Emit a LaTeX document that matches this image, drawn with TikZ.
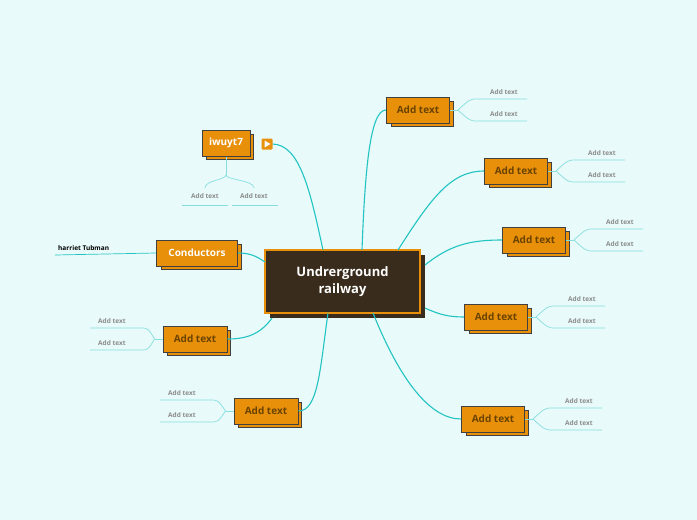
\documentclass[tikz,border=0pt]{standalone}
\usepackage{fontspec}
\setmainfont{Open Sans}
\begin{document}
\begin{tikzpicture}[x=1pt,y=-1pt,
  sub/.style={font=\bfseries\fontsize{6.5}{8}\selectfont,text=gray!90,inner sep=1pt},
  lt/.style={draw=teal2,line width=0.7pt},
  cn/.style={draw=teal1,line width=1.1pt}]
\definecolor{bgc}{HTML}{E8FAFA}
\definecolor{orgc}{HTML}{E8900A}
\definecolor{txtc}{HTML}{6A4300}
\definecolor{teal1}{HTML}{22C4C2}
\definecolor{teal2}{HTML}{86DEDE}
\definecolor{darkc}{HTML}{3A2C1C}
\useasboundingbox[fill=bgc] (0,0) rectangle (697,520);
% centre
\fill[darkc] (270,255) rectangle (425,318);
\node[draw=orgc,line width=2pt,fill=darkc,minimum width=155pt,minimum height=63pt,text=white,font=\bfseries\fontsize{13}{17}\selectfont,align=center] (c) at (342.5,281.5) {Undrerground\\railway};
\foreach \n/\x/\y/\t/\w/\col in {i/226/143/iwuyt7/48/white,k/197/253/Conductors/81/white,l1/195/339/Add text/64/txtc,l2/266/411/Add text/64/txtc,r1/418/110/Add text/63/txtc,r2/516/171/Add text/63/txtc,r3/534/240/Add text/63/txtc,r4/496/317/Add text/63/txtc,r5/493/419/Add text/63/txtc}{
  \fill[black!75] (\x-\w/2+4,\y-13+4) rectangle (\x+\w/2+4,\y+13+4);
  \fill[orgc] (\x-\w/2+4+1,\y-13+4+1) rectangle (\x+\w/2+4-1,\y+13+4-1);
  \node[draw=black!75,line width=1pt,fill=orgc,minimum width=\w pt,minimum height=26pt,inner sep=2pt,font=\bfseries\fontsize{10}{12}\selectfont,text=\col] (\n) at (\x,\y) {\t};
}
\node[fill=orgc,rounded corners=1pt,minimum size=11pt,inner sep=0pt] (ic) at (267,144) {};
\fill[white] (264.5,140.5) -- (270.5,144) -- (264.5,147.5) -- cycle;
% main connectors
\draw[cn] (323,250) .. controls (310,190) and (300,145) .. (ic.east);
\draw[cn] (362,250) .. controls (365,170) and (370,110) .. (r1.west);
\draw[cn] (398,250) .. controls (430,200) and (450,171) .. (r2.west);
\draw[cn] (425,265) .. controls (450,245) and (470,240) .. (r3.west);
\draw[cn] (425,308) .. controls (440,315) and (450,317) .. (r4.west);
\draw[cn] (373,313) .. controls (400,380) and (430,419) .. (r5.west);
\draw[cn] (328,313) .. controls (320,370) and (318,411) .. (l2.east);
\draw[cn] (272,318) .. controls (260,335) and (245,339) .. (l1.east);
\draw[cn] (265,262) .. controls (255,255) and (248,253) .. (k.east);
% harriet
\coordinate (hl) at (55,255);
\draw[teal1,line width=0.7pt] (k.west) -- (hl);
\node[font=\bfseries\fontsize{6.5}{8}\selectfont,anchor=south west,inner sep=1pt] (ht) at (57,252) {harriet Tubman};
% right subtopics
\foreach \n/\x/\y/\a in {r1/478/110/a1,r2/576/171/a2,r3/594/240/a3,r4/556/317/a4,r5/553/419/a5}{
  \coordinate (\a u) at (\x,\y-11);
  \coordinate (\a d) at (\x,\y+11);
  \draw[lt] (\n.east) -- ++(8,0) coordinate (\a m);
  \draw[lt] (\a m) .. controls (\x-8,\y-11) .. (\a u) -- ++(49,0);
  \draw[lt] (\a m) .. controls (\x-8,\y+11) .. (\a d) -- ++(49,0);
  \node[sub] at (\x+26,\y-18) {Add text};
  \node[sub] at (\x+26,\y+4) {Add text};
}
% left subtopics
\foreach \n/\x/\y in {l1/140/339,l2/210/411}{
  \draw[lt] (\n.west) -- ++(-8,0) coordinate (m\n);
  \draw[lt] (m\n) .. controls (\x+8,\y-11) .. (\x,\y-11) -- ++(-50,0);
  \draw[lt] (m\n) .. controls (\x+8,\y+11) .. (\x,\y+11) -- ++(-50,0);
  \node[sub] at (\x-28,\y-18) {Add text};
  \node[sub] at (\x-28,\y+4) {Add text};
}
% iwuyt7 subtopics
\draw[lt] (i.south) -- (226,175) coordinate (im);
\draw[lt] (im) .. controls (226,180) and (205,180) .. (205,188);
\draw[lt] (im) .. controls (226,180) and (254,180) .. (254,188);
\draw[lt] (182,205) -- (228,205);
\draw[lt] (232,205) -- (278,205);
\node[sub] at (205,196) {Add text};
\node[sub] at (254,196) {Add text};
\end{tikzpicture}
\end{document}
